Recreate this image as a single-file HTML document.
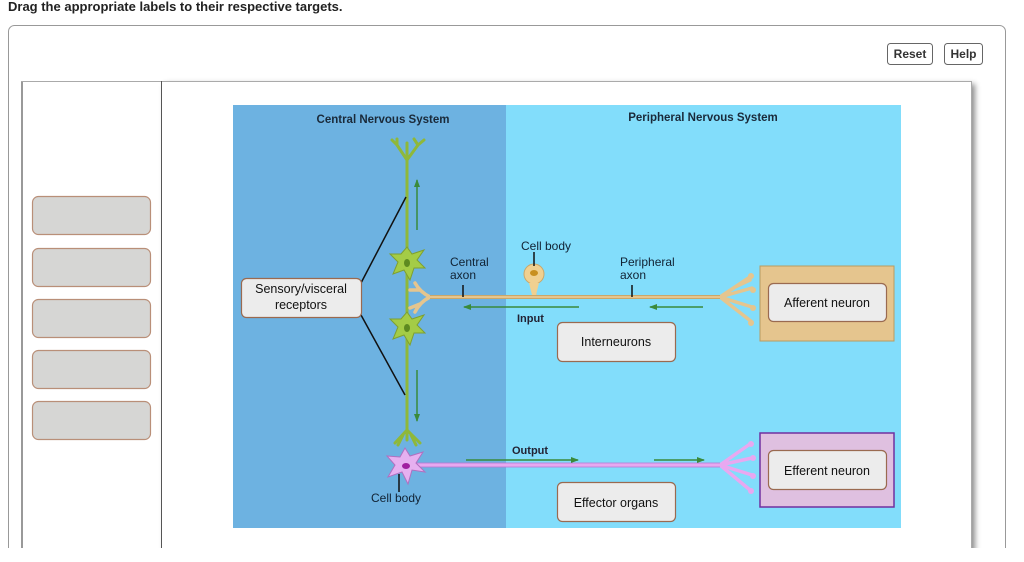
<!DOCTYPE html>
<html><head><meta charset="utf-8"><style>
html,body{margin:0;padding:0;background:#fff;width:1024px;height:562px;overflow:hidden;font-family:"Liberation Sans",sans-serif}
</style></head><body>
<svg width="1024" height="562" viewBox="0 0 1024 562" xmlns="http://www.w3.org/2000/svg" font-family="Liberation Sans, sans-serif">
<defs>
<marker id="ah" markerWidth="8" markerHeight="8" refX="7" refY="4" orient="auto" markerUnits="userSpaceOnUse"><path d="M0,1 L8,4 L0,7z" fill="#3a8a3a"/></marker>
<filter id="sh" x="-5%" y="-5%" width="115%" height="115%"><feDropShadow dx="4" dy="2" stdDeviation="3" flood-color="#000" flood-opacity="0.45"/></filter>
</defs>
<text x="8" y="11" font-size="13" font-weight="bold" fill="#222">Drag the appropriate labels to their respective targets.</text>
<rect x="8.5" y="25.5" width="997" height="560" rx="6" fill="#fff" stroke="#999"/>
<rect x="887.5" y="43.5" width="45" height="21" rx="3" fill="#fff" stroke="#666"/>
<text x="910" y="58" font-size="12" font-weight="bold" fill="#333" text-anchor="middle">Reset</text>
<rect x="944.5" y="43.5" width="38" height="21" rx="3" fill="#fff" stroke="#666"/>
<text x="963.5" y="58" font-size="12" font-weight="bold" fill="#333" text-anchor="middle">Help</text>
<rect x="161" y="82" width="810" height="500" fill="#fff" filter="url(#sh)"/>
<rect x="21.5" y="81.5" width="950" height="500" fill="none" stroke="#aaa"/>
<line x1="161.5" y1="81" x2="161.5" y2="562" stroke="#555"/>
<line x1="22" y1="82" x2="22" y2="562" stroke="#999" stroke-width="2"/>
<rect x="0" y="548" width="1024" height="14" fill="#fff"/>
<g fill="#d6d6d4" stroke="#b98f78" stroke-width="1.2">
<rect x="32.5" y="196.5" width="118" height="38" rx="6"/>
<rect x="32.5" y="248.5" width="118" height="38" rx="6"/>
<rect x="32.5" y="299.5" width="118" height="38" rx="6"/>
<rect x="32.5" y="350.5" width="118" height="38" rx="6"/>
<rect x="32.5" y="401.5" width="118" height="38" rx="6"/>
</g>
<rect x="233" y="105" width="273" height="423" fill="#6db2e1"/>
<rect x="506" y="105" width="395" height="423" fill="#82ddfb"/>
<text x="383" y="123" font-size="11.5" font-weight="bold" fill="#1a2a3a" text-anchor="middle">Central Nervous System</text>
<text x="703" y="121" font-size="11.5" font-weight="bold" fill="#1a2a3a" text-anchor="middle">Peripheral Nervous System</text>
<rect x="760" y="266" width="134" height="75" fill="#e5c58e" stroke="#b89a60"/>
<rect x="760" y="433" width="134" height="74" fill="#dfc0e0" stroke="#7030a0" stroke-width="1.5"/>
<g stroke="#8fb83a" stroke-width="3" fill="none" stroke-linecap="round">
<path d="M407,143 V395"/><path d="M407,160 L397,145 M397,145 L392,140 M397,145 L397,139 M407,160 L418,145 M418,145 L424,140 M418,145 L414,139"/>
<path d="M407,300 V440 M407,430 L395,443 M407,430 L420,443 M403,435 L398,445 M411,435 L416,445"/>
</g>
<g fill="#a4cc46" stroke="#7ea030" stroke-width="1">
<path d="M407,247 L412,254 L424,250 L417,260 L425,268 L414,268 L410,280 L404,270 L393,274 L398,262 L390,254 L401,254z"/>
<path d="M407,312 L412,319 L424,315 L417,325 L425,333 L414,333 L410,345 L404,335 L393,339 L398,327 L390,319 L401,319z"/>
</g>
<ellipse cx="407" cy="263" rx="3" ry="4" fill="#5e8a20"/>
<ellipse cx="407" cy="328" rx="3" ry="4" fill="#5e8a20"/>
<g stroke="#e5c58e" stroke-width="3.5" fill="none" stroke-linecap="round">
<path d="M430,297 H720"/><path d="M430,297 Q420,292 415,283 M420,290 L410,290 M430,297 Q420,302 415,312 M420,304 L410,308"/>
<path d="M720,297 L750,277 M720,297 L752,288 M720,297 L752,307 M720,297 L752,322 M735,287 L750,280"/>
<path d="M535,296 Q535,288 530,282"/>
</g>
<g stroke="#c9a76a" stroke-width="1" fill="none"><path d="M430,295.5 H720 M430,298.5 H720"/></g>
<circle cx="534" cy="274" r="10" fill="#f0d090" stroke="#c9a76a"/>
<path d="M529,283 L539,283 L536,295 L532,295z" fill="#f0d090"/>
<ellipse cx="534" cy="273" rx="4" ry="3" fill="#c89020"/>
<g fill="#e5c58e"><circle cx="751" cy="276" r="3"/><circle cx="753" cy="290" r="3"/><circle cx="753" cy="308" r="3"/><circle cx="751" cy="323" r="3"/></g>
<g stroke="#e8a8f0" stroke-width="3.5" fill="none" stroke-linecap="round">
<path d="M415,465 H720"/><path d="M720,465 L750,444 M720,465 L752,458 M720,465 L752,475 M720,465 L750,490"/>
</g>
<line x1="415" y1="463" x2="720" y2="463" stroke="#c070d0" stroke-width="0.8"/>
<line x1="415" y1="467" x2="720" y2="467" stroke="#c070d0" stroke-width="0.8"/>
<g fill="#e8a8f0"><circle cx="751" cy="444" r="3"/><circle cx="753" cy="458" r="3"/><circle cx="753" cy="476" r="3"/><circle cx="751" cy="491" r="3"/></g>
<path d="M405,448 L410,456 L423,452 L416,463 L425,472 L412,470 L408,484 L402,472 L388,477 L395,465 L387,456 L400,457z" fill="#e6b0f0" stroke="#b070c0"/>
<ellipse cx="406" cy="466" rx="4" ry="3" fill="#a020a0"/>
<g stroke="#3a8a3a" stroke-width="1.5">
<line x1="417" y1="230" x2="417" y2="180" marker-end="url(#ah)"/>
<line x1="417" y1="370" x2="417" y2="421" marker-end="url(#ah)"/>
<line x1="579" y1="307" x2="464" y2="307" marker-end="url(#ah)"/>
<line x1="703" y1="307" x2="650" y2="307" marker-end="url(#ah)"/>
<line x1="466" y1="460" x2="578" y2="460" marker-end="url(#ah)"/>
<line x1="654" y1="460" x2="704" y2="460" marker-end="url(#ah)"/>
</g>
<g stroke="#111" stroke-width="1.5">
<line x1="361" y1="283" x2="406" y2="197"/><line x1="361" y1="315" x2="405" y2="395"/>
<line x1="463" y1="285" x2="463" y2="297"/><line x1="632" y1="285" x2="632" y2="297"/>
<line x1="534" y1="252" x2="534" y2="266"/><line x1="399" y1="474" x2="399" y2="492"/>
</g>
<g font-size="12" fill="#112233">
<text x="450" y="266">Central</text><text x="450" y="279">axon</text>
<text x="521" y="250">Cell body</text>
<text x="620" y="266">Peripheral</text><text x="620" y="279">axon</text>
<text x="371" y="502">Cell body</text>
</g>
<g font-size="11" font-weight="bold" fill="#223">
<text x="517" y="322">Input</text><text x="512" y="454">Output</text>
</g>
<g fill="#ececec" stroke="#9a6a50" stroke-width="1.2">
<rect x="241.5" y="278.5" width="120" height="39" rx="5"/>
<rect x="557.5" y="322.5" width="118" height="39" rx="5"/>
<rect x="768.5" y="283.5" width="118" height="38" rx="5"/>
<rect x="768.5" y="450.5" width="118" height="39" rx="5"/>
<rect x="557.5" y="482.5" width="118" height="39" rx="5"/>
</g>
<g font-size="12.5" fill="#111" text-anchor="middle">
<text x="301" y="293">Sensory/visceral</text><text x="301" y="309">receptors</text>
<text x="616" y="346">Interneurons</text>
<text x="827" y="307">Afferent neuron</text>
<text x="827" y="475">Efferent neuron</text>
<text x="616" y="507">Effector organs</text>
</g>
</svg>
</body></html>
